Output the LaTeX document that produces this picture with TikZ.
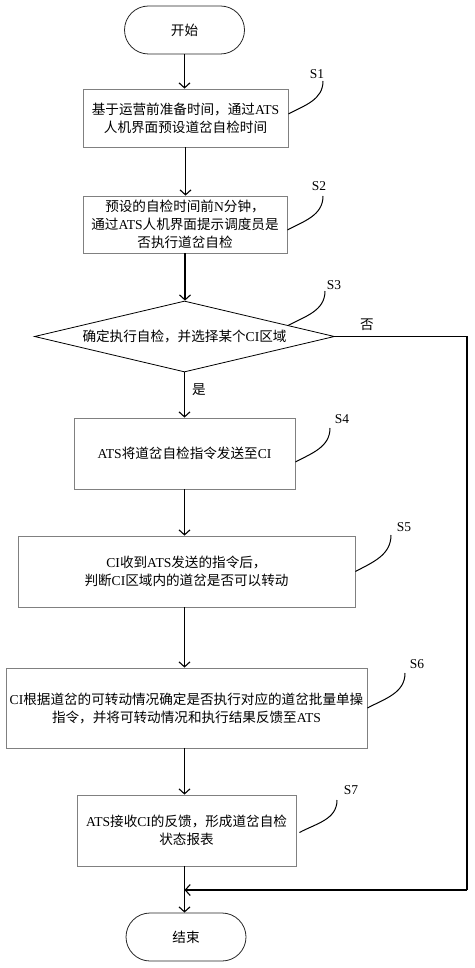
\documentclass[tikz,border=0pt]{standalone}
\usepackage{fontspec}
\setmainfont{Liberation Serif}
\newfontfamily\zhfont{Noto Sans CJK SC}
\newcommand\zh[1]{{\zhfont #1}}
\usetikzlibrary{arrows.meta,shapes.geometric,shapes.misc,calc}
\begin{document}
\begin{tikzpicture}[x=1pt,y=-1pt,
  font=\fontsize{13.6}{18}\selectfont,
  box/.style={draw=black!50, line width=0.8pt, align=center, inner sep=0pt},
  term/.style={draw=black!85, rounded rectangle, line width=0.8pt, minimum width=120pt, minimum height=48pt, inner sep=0pt},
  decision/.style={draw=black, diamond, aspect=4.2, line width=0.8pt, minimum width=300pt, minimum height=71pt, inner sep=0pt},
  arr/.style={line width=1.1pt, -{Straight Barb[length=5pt,width=11pt]}},
  flow/.style={line width=1.1pt},
  lead/.style={line width=1pt},
  lbl/.style={inner sep=0pt, font=\fontsize{13.5}{13.5}\selectfont}]
\useasboundingbox (0,0) rectangle (474,968);

\node[term] (start) at (184.5,30) {\zh{开始}};
\node[box, minimum width=205pt, minimum height=58pt] (s1) at (185.5,118)
  {\zh{基于运营前准备时间，通过}ATS\\\zh{人机界面预设道岔自检时间}};
\node[box, minimum width=204pt, minimum height=57pt] (s2) at (185,224.5)
  {\zh{预设的自检时间前}N\zh{分钟，}\\\zh{通过}ATS\zh{人机界面提示调度员是}\\\zh{否执行道岔自检}};
\node[decision] (dia) at (184.5,336.5) {\zh{确定执行自检，并选择某个}CI\zh{区域}};
\node[box, minimum width=221pt, minimum height=71pt] (s4) at (184.5,453.5)
  {ATS\zh{将道岔自检指令发送至}CI};
\node[box, minimum width=337pt, minimum height=71pt] (s5) at (186.5,571.5)
  {CI\zh{收到}ATS\zh{发送的指令后，}\\\zh{判断}CI\zh{区域内的道岔是否可以转动}};
\node[box, minimum width=361pt, minimum height=80pt] (s6) at (186.5,708)
  {CI\zh{根据道岔的可转动情况确定是否执行对应的道岔批量单操}\\\zh{指令，并将可转动情况和执行结果反馈至}ATS};
\node[box, minimum width=219pt, minimum height=71pt] (s7) at (186.5,830.5)
  {ATS\zh{接收}CI\zh{的反馈，形成道岔自检}\\\zh{状态报表}};
\node[term] (end) at (186,937) {\zh{结束}};

% main flow
\draw[arr] (start.south) -- (start.south |- s1.north);
\draw[arr] (s1.south) -- (s1.south |- s2.north);
\draw[arr] (s2.south) -- (s2.south |- dia.north);
\draw[arr] (dia.south) -- (dia.south |- s4.north);
\node (yes) at (199,390) {\zh{是}};
\draw[arr] (s4.south) -- (s4.south |- s5.north);
\draw[arr] (s5.south -| s4.south) -- (s4.south |- s6.north);
\draw[arr] (s6.south -| s4.south) -- (s4.south |- s7.north);
\draw[arr] (s7.south -| s4.south) -- (s4.south |- end.north);

% no branch
\coordinate (fbA) at (467,336.5);
\coordinate (fbB) at (467,890);
\draw[flow] (dia.east) -- (fbA) -- (fbB);
\draw[arr] (fbB) -- (fbB -| s4.south);
\node (no) at (367,325) {\zh{否}};

% step labels
\node[lbl] (L1) at (317,74) {S1};
\node[lbl] (L2) at (319,186) {S2};
\node[lbl] (L3) at (334,285) {S3};
\node[lbl] (L4) at (342,419) {S4};
\node[lbl] (L5) at (404,527) {S5};
\node[lbl] (L6) at (417,664) {S6};
\node[lbl] (L7) at (351,790) {S7};
\coordinate (e1) at (323,81);
\coordinate (e2) at (323,196);
\coordinate (e3) at (325,291);
\coordinate (e4) at (330,428);
\coordinate (e5) at (391,535);
\coordinate (e6) at (405,673);
\coordinate (e7) at (337,800);
\draw[lead] ([yshift=4pt]s1.east) to[out=28,in=-90] (e1);
\draw[lead] ([yshift=-5.5pt]s2.east) to[out=28,in=-90] (e2);
\draw[lead] ($(dia.north)!0.69!(dia.east)$) to[out=28,in=-90] (e3);
\draw[lead] ([yshift=-8.5pt]s4.east) to[out=28,in=-90] (e4);
\draw[lead] (s5.east) to[out=28,in=-90] (e5);
\draw[lead] (s6.east) to[out=28,in=-90] (e6);
\draw[lead] ([xshift=3pt,yshift=-2pt]s7.east) to[out=28,in=-90] (e7);
\end{tikzpicture}
\end{document}
